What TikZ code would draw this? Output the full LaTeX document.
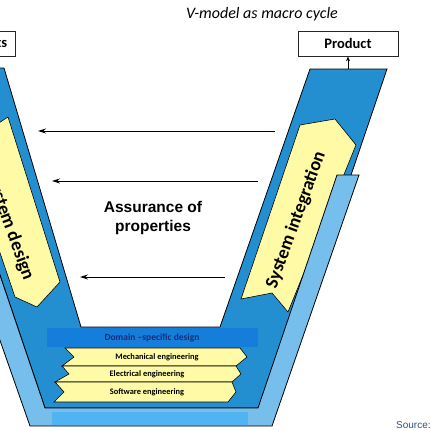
\documentclass[tikz,border=0pt]{standalone}
\usepackage{fontspec}
\setmainfont{Carlito}
\newfontfamily\arialf{Liberation Sans}
\usetikzlibrary{arrows.meta}
\definecolor{vdark}{RGB}{36,143,208}
\definecolor{vlight}{RGB}{118,190,236}
\definecolor{vbright}{RGB}{80,180,242}
\definecolor{vdomain}{RGB}{20,126,218}
\definecolor{vyellow}{RGB}{255,250,165}
\definecolor{vnavy}{RGB}{25,45,120}
\definecolor{vsource}{RGB}{50,80,130}
\tikzset{
  outl/.style={draw=black,line width=0.8pt},
  labelbox/.style={draw=black!85,line width=0.7pt,minimum width=100pt,minimum height=25pt,inner sep=0pt,font=\bfseries\fontsize{14.5}{16}\selectfont},
  yel/.style={fill=vyellow,draw=black,line width=0.6pt},
  armtext/.style={font=\bfseries\fontsize{18.5}{20}\selectfont,inner sep=0pt},
  engtext/.style={font=\bfseries\fontsize{8.4}{9}\selectfont,inner sep=0pt},
  assure/.style={-{Stealth[length=8pt,width=5pt]},line width=0.9pt}
}
\begin{document}
\begin{tikzpicture}[x=1pt,y=-1pt]
\useasboundingbox (0,0) rectangle (431,431);
\clip (0,0) rectangle (431,431);
% title
\node (title) at (262,14) {\itshape\fontsize{16}{18}\selectfont V-model as macro cycle};
% boxes
\node[labelbox] (req) at (-35,43.5) {Requirements};
\node[labelbox] (product) at (348,43.5) {Product};
% dark blue V
\fill[vdark] (-70,68) -- (4,68) -- (81,327) -- (220,327) -- (310,69) -- (387,69) -- (272,408) -- (45,408) -- cycle;
\draw[outl] (-70,68) -- (4,68) -- (81,327) -- (220,327) -- (310,69) -- (387,69) -- (272,408) -- (45,408) -- cycle;
% yellow arm chevrons
\draw[yel] (8,117) -- (60,282) -- (37,307) -- (15,297) -- (-45,120) -- (-18,134) -- cycle;
\draw[yel] (300,125) -- (335,119) -- (356,145) -- (288,312) -- (272,293) -- (241,299) -- cycle;
\node[armtext] (sdes) at (10,228) {\rotatebox{-70}{System design}};
\node[armtext] (sint) at (296,220) {\rotatebox{70}{System integration}};
% light blue U
\filldraw[fill=vlight,outl] (337,175) -- (359,175) -- (272,426) -- (30,426) -- (-58,175) -- (-34,175) -- (45,408) -- (258,408) -- cycle;
\fill[vbright] (52,412) rectangle (248,425);
% domain specific
\fill[vdomain] (47,328) rectangle (258,347);
\node[font=\bfseries\fontsize{9.5}{10}\selectfont,text=vnavy,inner sep=0pt] (dom) at (152,338) {Domain –specific design};
% engineering chevrons
\draw[yel] (65,348) -- (240,348) -- (247,357) -- (236,366) -- (62,366) -- (74,357) -- cycle;
\draw[yel] (62,366) -- (236,366) -- (241,374) -- (232,382) -- (55,382) -- (69,374) -- cycle;
\draw[yel] (55,382) -- (232,382) -- (236,392) -- (228,402) -- (54,402) -- (64,392) -- cycle;
\node[engtext] (mech) at (157,357) {Mechanical engineering};
\node[engtext] (elec) at (147,374) {Electrical engineering};
\node[engtext] (soft) at (147,392) {Software engineering};
% assurance
\node[font=\arialf\bfseries\fontsize{15.5}{19}\selectfont,align=center] (assur) at (153,218) {Assurance of\\properties};
\coordinate (a1s) at (275,131); \coordinate (a1e) at (38,131);
\coordinate (a2s) at (258,181); \coordinate (a2e) at (52,181);
\coordinate (a3s) at (225,277); \coordinate (a3e) at (80,277);
\draw[assure] (a1s) -- (a1e);
\draw[assure] (a2s) -- (a2e);
\draw[assure] (a3s) -- (a3e);
% product arrow
\coordinate (rtop) at (348,69);
\draw[-{Stealth[length=5pt,width=4pt]},line width=0.8pt] (rtop) -- (product.south);
% source
\node[font=\arialf\fontsize{10}{11}\selectfont,text=vsource,anchor=west,inner sep=0pt] (src) at (396,425) {Source:};
\end{tikzpicture}
\end{document}
